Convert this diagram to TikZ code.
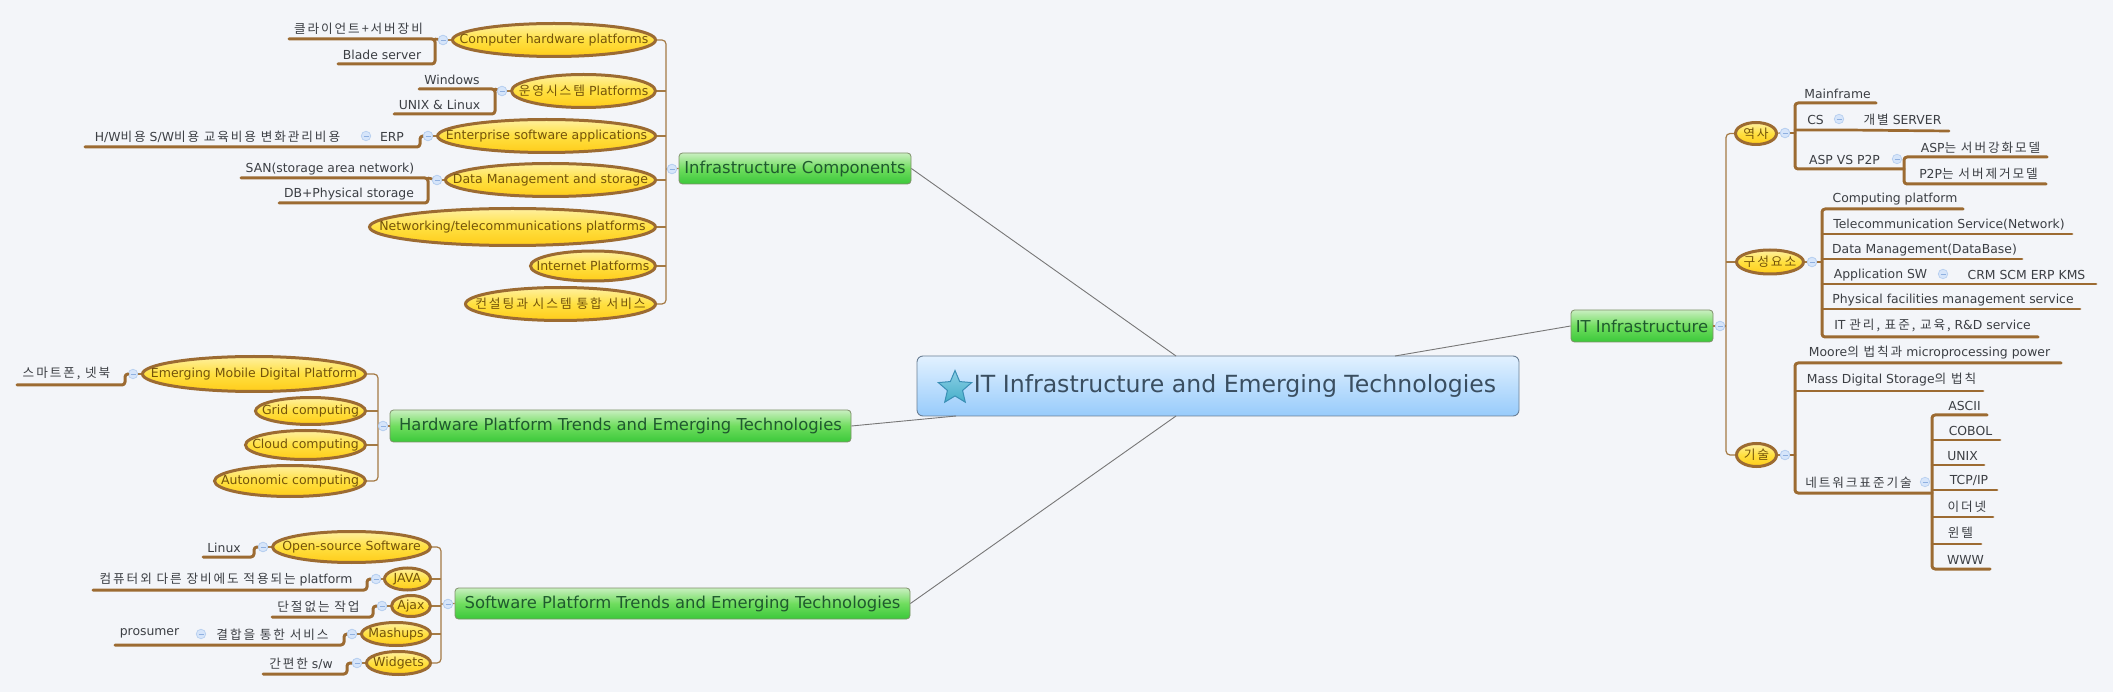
\documentclass[tikz,border=0pt]{standalone}
\usepackage{fontspec}
\setmainfont{DejaVu Sans}
\newfontfamily\krfont[Scale=1.02,LetterSpace=15]{Noto Sans CJK KR}
\newcommand{\kr}[1]{{\krfont #1}}
\usetikzlibrary{shapes.geometric,calc}
\definecolor{bgc}{HTML}{F3F5F9}
\definecolor{brn}{HTML}{9C6B32}
\definecolor{stemc}{HTML}{A47A45}
\definecolor{txtc}{HTML}{3C3F44}
\definecolor{ovtxt}{HTML}{74530A}
\definecolor{ovtop}{HTML}{FFF0A0}
\definecolor{ovmid}{HTML}{FFE040}
\definecolor{ovbot}{HTML}{FFCC1A}
\definecolor{grtop}{HTML}{C9EFC0}
\definecolor{grmid}{HTML}{6FDD5E}
\definecolor{grbot}{HTML}{3BC83A}
\definecolor{grdraw}{HTML}{7F8F6A}
\definecolor{grtxt}{HTML}{1F5A2E}
\definecolor{bltop}{HTML}{E2F1FF}
\definecolor{blbot}{HTML}{97CBFB}
\definecolor{bldraw}{HTML}{6A7F95}
\definecolor{bltxt}{HTML}{3A4E60}
\definecolor{linkc}{HTML}{777777}
\definecolor{togf}{HTML}{D6E5FA}
\definecolor{togd}{HTML}{B7CFF0}
\definecolor{togm}{HTML}{8FB0E0}
\definecolor{sttop}{HTML}{8CCFE6}
\definecolor{stbot}{HTML}{45AFC8}
\definecolor{stdraw}{HTML}{3A8FB5}
\tikzset{
  x=1pt,y=-1pt,
  ul/.style={draw=brn,line width=2.7pt,line cap=round,line join=round},
  trunk/.style={ul,rounded corners=3pt,line width=3pt},
  stem/.style={draw=stemc,line width=1.2pt},
  stemr/.style={stem,rounded corners=4pt},
  link/.style={draw=linkc,line width=0.9pt},
  lbl/.style={inner sep=0pt,yshift=-0.7pt,text=txtc,font=\fontsize{12.4}{14}\selectfont},
  ovalnode/.style={ellipse,inner sep=0pt,draw=brn,line width=3pt,top color=ovtop,bottom color=ovbot,middle color=ovmid,text=ovtxt,font=\fontsize{12.5}{14}\selectfont},
  greenbox/.style={rectangle,rounded corners=3.5pt,inner sep=0pt,draw=grdraw,line width=0.8pt,top color=grtop,bottom color=grbot,middle color=grmid,text=grtxt,font=\fontsize{16.4}{19}\selectfont},
  cenbox/.style={rectangle,rounded corners=6pt,inner sep=0pt,draw=bldraw,line width=0.9pt,top color=bltop,bottom color=blbot,text=bltxt,font=\fontsize{23.6}{28}\selectfont},
  tog/.style={circle,inner sep=0pt,minimum size=9.5pt,draw=togd,fill=togf,line width=0.7pt,
    path picture={\draw[togm,line width=0.9pt] ($(path picture bounding box.center)+(-2.5,0)$) -- ($(path picture bounding box.center)+(2.5,0)$);}},
  starnode/.style={star,star points=5,star point ratio=2.2,minimum size=35pt,inner sep=0pt,draw=stdraw,line width=1pt,top color=sttop,bottom color=stbot}
}
% name, xleft, xright, yline, xcentre, ytext, text
\newcommand{\mleaf}[7]{%
  \coordinate (#1-l) at (#2,#4);
  \coordinate (#1-r) at (#3,#4);
  \node[lbl] (#1) at (#5,#6) {#7};}
% name, x1, x2, cy, height, text
\newcommand{\moval}[6]{%
  \pgfmathsetmacro{\mmx}{(#2+#3)/2}\pgfmathsetmacro{\mmw}{#3-#2-3}\pgfmathsetmacro{\mmh}{#5-1}%
  \node[ovalnode,minimum width=\mmw pt,minimum height=\mmh pt] (#1) at (\mmx,#4) {\raisebox{-0.8pt}{\makebox[0pt][c]{#6}}};}
% style, name, x1, x2, y1, y2, text
\newcommand{\mrect}[7]{%
  \pgfmathsetmacro{\mmx}{(#3+#4)/2}\pgfmathsetmacro{\mmy}{(#5+#6)/2}\pgfmathsetmacro{\mmw}{#4-#3}\pgfmathsetmacro{\mmh}{#6-#5}%
  \node[#1,minimum width=\mmw pt,minimum height=\mmh pt] (#2) at (\mmx,\mmy) {\raisebox{-1pt}{#7}};}
\begin{document}
\begin{tikzpicture}
\fill[bgc] (0,0) rectangle (2113,692);
\useasboundingbox (0,0) rectangle (2113,692);

% centre and main topics
\mrect{cenbox}{root}{917}{1519}{356}{416}{\hspace*{34pt}IT Infrastructure and Emerging Technologies}
\node[starnode] (rootstar) at (955,388) {};
\mrect{greenbox}{infra}{679}{911}{153}{184}{Infrastructure Components}
\mrect{greenbox}{hw}{390}{851}{410}{442}{Hardware Platform Trends and Emerging Technologies}
\mrect{greenbox}{sw}{455}{910}{588}{619}{Software Platform Trends and Emerging Technologies}
\mrect{greenbox}{iti}{1571}{1713}{310}{342}{IT Infrastructure}
\coordinate (rootnw) at (1176,356);
\coordinate (rootw) at (956,416);
\coordinate (rootsw) at (1176,416);
\coordinate (rootne) at (1395,356);
\draw[link] (infra.east) -- (rootnw);
\draw[link] (hw.east) -- (rootw);
\draw[link] (sw.east) -- (rootsw);
\draw[link] (iti.west) -- (rootne);

% infrastructure topics
\moval{a1}{451}{657}{40}{34}{Computer hardware platforms}
\moval{a2}{510}{657}{91}{34}{\kr{운영시스템} Platforms}
\moval{a3}{436}{657}{136}{34}{Enterprise software applications}
\moval{a4}{444}{657}{180}{34}{Data Management and storage}
\moval{a5}{368}{657}{227}{38}{Networking/telecommunications platforms}
\moval{a6}{529}{657}{266}{31}{Internet Platforms}
\moval{a7}{464}{657}{304}{34}{\kr{컨설팅과 시스템 통합 서비스}}
\node[tog] (tinfra) at (672,169) {};
\coordinate (tra) at (666,169);
\draw[stemr] (a1.east) -| (tra) |- (a7.east);
\foreach \n in {a2,a3,a4,a5,a6} \draw[stem] (\n.east) -- (\n.east -| tra);
\draw[stem] (tra) -- (tinfra) -- (infra.west);

\node[tog] (ta1) at (443,40) {};
\node[tog] (ta2) at (502,91) {};
\node[tog] (ta3) at (428,136) {};
\node[tog] (ta4) at (437,180) {};
\node[tog] (ta3b) at (366,136) {};
\mleaf{la}{289}{435}{39}{358.5}{28}{\kr{클라이언트+서버장비}}
\mleaf{lb}{338}{435}{64}{382}{54}{Blade server}
\mleaf{lc}{419}{495}{89}{452}{79}{Windows}
\mleaf{ld}{394}{495}{114}{439.5}{104}{UNIX \& Linux}
\mleaf{le}{359}{420}{147}{392}{136}{ERP}
\mleaf{lf}{85}{359}{147}{217.5}{136}{H/W\kr{비용} S/W\kr{비용 교육비용 변화관리비용}}
\mleaf{lg}{241}{428}{178}{330}{168}{SAN(storage area network)}
\mleaf{lh}{279}{428}{203}{349}{193}{DB+Physical storage}
\draw[trunk] (la-l) -- (la-r) -- (lb-r) -- (lb-l);
\draw[ul] (la-r) -- (ta1);
\draw[stem] (ta1) -- (a1);
\draw[trunk] (lc-l) -- (lc-r) -- (ld-r) -- (ld-l);
\draw[ul] (lc-r) -- (ta2);
\draw[stem] (ta2) -- (a2);
\draw[trunk] (lf-l) -- (le-r) |- (ta3);
\draw[stem] (ta3) -- (a3);
\draw[trunk] (lg-l) -- (lg-r) -- (lh-r) -- (lh-l);
\draw[ul] (lg-r) -- (ta4);
\draw[stem] (ta4) -- (a4);
\node[tog] at (ta1) {};
\node[tog] at (ta2) {};
\node[tog] at (ta3) {};
\node[tog] at (ta4) {};

% hardware topics
\moval{b1}{141}{367}{374}{36}{Emerging Mobile Digital Platform}
\moval{b2}{254}{367}{411}{28}{Grid computing}
\moval{b3}{244}{367}{445}{30}{Cloud computing}
\moval{b4}{213}{367}{481}{32}{Autonomic computing}
\node[tog] (thw) at (383,426) {};
\coordinate (trb) at (378,426);
\draw[stemr] (b1.east) -| (trb) |- (b4.east);
\foreach \n in {b2,b3} \draw[stem] (\n.east) -- (\n.east -| trb);
\draw[stem] (trb) -- (thw) -- (hw.west);
\node[tog] (tb1) at (133,374) {};
\mleaf{lm}{17}{125}{385}{66.5}{373}{\kr{스마트폰, 넷북}}
\draw[trunk] (lm-l) -- (lm-r) |- (tb1);
\draw[stem] (tb1) -- (b1);

% software topics
\moval{c1}{271}{432}{547}{32}{Open-source Software}
\moval{c2}{383}{432}{579}{23}{JAVA}
\moval{c3}{390}{432}{606}{22}{Ajax}
\moval{c4}{360}{432}{634}{24}{Mashups}
\moval{c5}{365}{432}{663}{24}{Widgets}
\node[tog] (tsw) at (448,604) {};
\coordinate (trc) at (441,604);
\draw[stemr] (c1.east) -| (trc) |- (c5.east);
\foreach \n in {c2,c3,c4} \draw[stem] (\n.east) -- (\n.east -| trc);
\draw[stem] (trc) -- (tsw) -- (sw.west);
\node[tog] (tc1) at (263,547) {};
\node[tog] (tc2) at (376,579) {};
\node[tog] (tc3) at (382,606) {};
\node[tog] (tc4) at (352,634) {};
\node[tog] (tc4b) at (201,634) {};
\node[tog] (tc5) at (357,663) {};
\mleaf{ln}{203}{254}{557}{224}{547}{Linux}
\mleaf{lo}{93}{367}{590}{226}{579}{\kr{컴퓨터외 다른 장비에도 적용되는} platform}
\mleaf{lp}{272}{373}{617}{318.5}{606}{\kr{단절없는 작업}}
\mleaf{lq}{195}{344}{645}{272.5}{634}{\kr{결합을 통한 서비스}}
\mleaf{lr}{115}{195}{645}{149.5}{633}{prosumer}
\mleaf{ls}{263}{347}{674}{301}{663}{\kr{간편한} s/w}
\draw[trunk] (ln-l) -- (ln-r) |- (tc1);
\draw[trunk] (lo-l) -- (lo-r) |- (tc2);
\draw[trunk] (lp-l) -- (lp-r) |- (tc3);
\draw[trunk] (lr-l) -- (lq-r) |- (tc4);
\draw[trunk] (ls-l) -- (ls-r) |- (tc5);
\foreach \m/\n in {tc1/c1,tc2/c2,tc3/c3,tc4/c4,tc5/c5} \draw[stem] (\m) -- (\n);
\node[tog] at (tc1) {};
\node[tog] at (tc2) {};
\node[tog] at (tc3) {};
\node[tog] at (tc4) {};
\node[tog] at (tc5) {};

% IT infrastructure topics
\moval{d1}{1734}{1778}{133.5}{23}{\kr{역사}}
\moval{d2}{1735}{1805}{262}{25}{\kr{구성요소}}
\moval{d3}{1735}{1778}{455}{24}{\kr{기술}}
\node[tog] (titi) at (1720,326) {};
\coordinate (trd) at (1726,326);
\draw[stemr] (d1.west) -| (trd) |- (d3.west);
\draw[stem] (d2.west) -- (d2.west -| trd);
\draw[stem] (iti.east) -- (titi) -- (trd);
\node[tog] (td1) at (1785,133) {};
\node[tog] (td2) at (1812,262) {};
\node[tog] (td3) at (1785,455) {};
\foreach \m/\n in {td1/d1,td2/d2,td3/d3} \draw[stem] (\m) -- (\n);

\mleaf{ra}{1795}{1876}{103}{1837.5}{93}{Mainframe}
\mleaf{rb}{1795}{1847}{130}{1815.5}{119}{CS}
\mleaf{rc}{1847}{1949}{131}{1902.5}{119}{\kr{개별} SERVER}
\mleaf{rd}{1795}{1904}{169}{1844.5}{159}{ASP VS P2P}
\mleaf{re}{1904}{2047}{157}{1980.5}{147}{ASP\kr{는 서버강화모델}}
\mleaf{rf}{1904}{2046}{184}{1978.5}{173}{P2P\kr{는 서버제거모델}}
\node[tog] (trb1) at (1839,119) {};
\node[tog] (trd1) at (1897,159) {};
\draw[trunk] (ra-r) -- (ra-l) -- (rd-l) -- (rd-r);
\draw[ul] (rb-l) -- (rb-r) -- (rc-r);
\draw[ul] (td1) -- (rb-l |- td1);
\draw[trunk] (re-r) -- (re-l) -- (rf-l) -- (rf-r);

\mleaf{sa}{1822}{1963}{209}{1895}{198}{Computing platform}
\mleaf{sb}{1822}{2072}{234}{1949}{224}{Telecommunication Service(Network)}
\mleaf{sc}{1822}{2022}{259}{1924.5}{249}{Data Management(DataBase)}
\mleaf{sd}{1822}{1955}{284}{1880.5}{274}{Application SW}
\mleaf{se}{1955}{2096}{284}{2026.5}{274}{CRM SCM ERP KMS}
\mleaf{sf}{1822}{2080}{309}{1953}{299}{Physical facilities management service}
\mleaf{sg}{1822}{2038}{337}{1932.5}{325}{IT \kr{관리, 표준, 교육,} R\&D service}
\node[tog] (tsd) at (1943,274) {};
\draw[trunk] (sa-r) -- (sa-l) -- (sg-l) -- (sg-r);
\foreach \n in {sb,sc,sf} \draw[ul] (\n-l) -- (\n-r);
\draw[ul] (sd-l) -- (se-r);
\draw[ul] (td2) -- (sa-l |- td2);

\mleaf{ua}{1795}{2061}{363}{1929.5}{352}{Moore\kr{의 법칙과} microprocessing power}
\mleaf{ub}{1795}{1983}{391}{1891.5}{379}{Mass Digital Storage\kr{의 법칙}}
\mleaf{uc}{1795}{1932}{493}{1858.5}{482}{\kr{네트워크표준기술}}
\mleaf{va}{1932}{1987}{415}{1964.5}{405}{ASCII}
\mleaf{vb}{1932}{2000}{440}{1970.5}{430}{COBOL}
\mleaf{vc}{1932}{1984}{465}{1962.5}{455}{UNIX}
\mleaf{vd}{1932}{1997}{490}{1969}{480}{TCP/IP}
\mleaf{ve}{1932}{1993}{517}{1967}{506}{\kr{이더넷}}
\mleaf{vf}{1932}{1981}{544}{1960.5}{532}{\kr{윈텔}}
\mleaf{vg}{1932}{1990}{569}{1965.5}{559}{WWW}
\node[tog] (tuc) at (1925,482) {};
\draw[trunk] (ua-r) -- (ua-l) -- (uc-l) -- (uc-r);
\draw[ul] (ub-l) -- (ub-r);
\draw[ul] (td3) -- (ua-l |- td3);
\draw[trunk] (va-r) -- (va-l) -- (vg-l) -- (vg-r);
\foreach \n in {vb,vc,vd,ve,vf} \draw[ul] (\n-l) -- (\n-r);
\node[tog] at (td1) {};
\node[tog] at (td2) {};
\node[tog] at (td3) {};
\node[tog] at (tinfra) {};
\node[tog] at (thw) {};
\node[tog] at (tsw) {};
\node[tog] at (titi) {};
\end{tikzpicture}
\end{document}
